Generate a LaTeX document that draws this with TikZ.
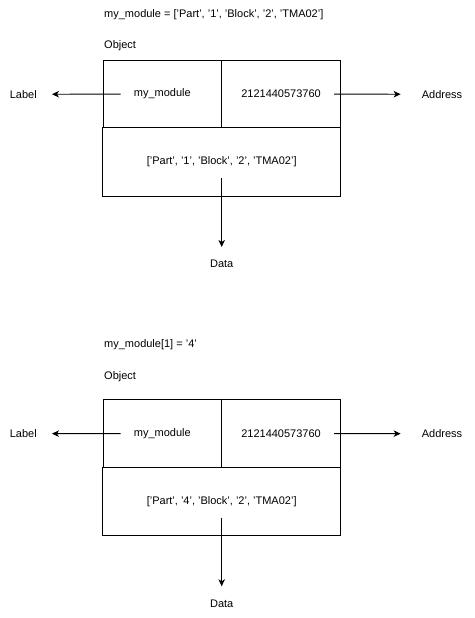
\documentclass[tikz,border=0pt]{standalone}
\usepackage{fontspec}
\setmainfont{Liberation Sans}
\usetikzlibrary{arrows.meta,positioning}
\tikzset{
  celula/.style={rectangle, draw=black, line width=0.9pt, outer sep=0pt,
                 minimum width=118.7pt, minimum height=67.4pt},
  texto/.style={inner sep=0pt, font=\fontsize{11pt}{13pt}\selectfont},
  titulo/.style={texto, anchor=west},
  seta/.style={-{Stealth[length=7pt, width=6.5pt, inset=2pt]}, line width=0.9pt,
               shorten <=13pt, shorten >=15pt},
}

\begin{document}
\begin{tikzpicture}[x=1pt, y=-1pt]
  \useasboundingbox (0,0) rectangle (474,618);

  % primeira atribuicao
  \node[titulo] (tituloA) at (104,15) {my\_module = ['Part', '1', 'Block', '2', 'TMA02']};
  \node[titulo] (objA) at (104,46) {Object};
  \node[celula] (celA1) at (162.35,94) {};
  \node[celula, right=0pt of celA1] (celA2) {};
  \node[celula, minimum width=237.7pt, minimum height=68.3pt,
        below=0pt of celA1.south east] (celA3) {};
  \node[texto] (nomeA) at (celA1) {my\_module};
  \node[texto] (endA) at (celA2) {2121440573760};
  \node[texto] (dadosA) at (celA3) {['Part', '1', 'Block', '2', 'TMA02']};
  \node[texto] (rotuloA) at (23.3,94.3) {Label};
  \node[texto] (addrA) at (442,94.3) {Address};
  \node[texto] (dataA) at (221.7,264) {Data};
  \draw[seta] (nomeA) -- (rotuloA);
  \draw[seta, shorten >=21pt] (endA) -- (addrA);
  \draw[seta, shorten <=11pt, shorten >=13pt] (dadosA) -- (dataA);

  % segunda atribuicao
  \node[titulo] (tituloB) at (104,345) {my\_module[1] = '4'};
  \node[titulo] (objB) at (104,376.5) {Object};
  \node[celula] (celB1) at (162.35,433.5) {};
  \node[celula, right=0pt of celB1] (celB2) {};
  \node[celula, minimum width=237.7pt, minimum height=68.3pt,
        below=0pt of celB1.south east] (celB3) {};
  \node[texto] (nomeB) at (celB1) {my\_module};
  \node[texto] (endB) at (celB2) {2121440573760};
  \node[texto] (dadosB) at (celB3) {['Part', '4', 'Block', '2', 'TMA02']};
  \node[texto] (rotuloB) at (23.3,433.7) {Label};
  \node[texto] (addrB) at (442,433.7) {Address};
  \node[texto] (dataB) at (221.7,603.3) {Data};
  \draw[seta] (nomeB) -- (rotuloB);
  \draw[seta, shorten >=21pt] (endB) -- (addrB);
  \draw[seta, shorten <=11pt, shorten >=13pt] (dadosB) -- (dataB);
\end{tikzpicture}
\end{document}
